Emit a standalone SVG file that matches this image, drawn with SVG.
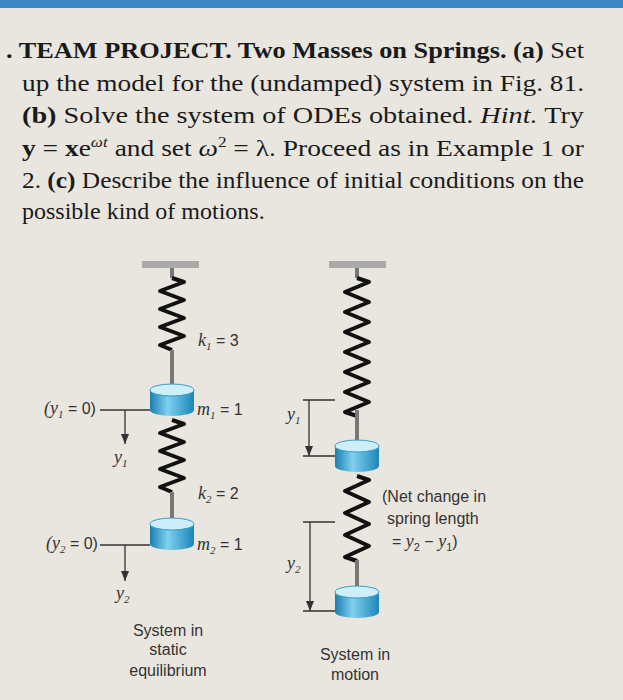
<svg xmlns="http://www.w3.org/2000/svg" width="623" height="700" viewBox="0 0 623 700">
<style>
.t{font-family:"Liberation Serif",serif;font-size:24px;fill:#1a1a1a}
.b{font-weight:bold}
.i{font-style:italic}
.s{font-family:"Liberation Sans",sans-serif;font-size:16px;fill:#333}
.m{font-family:"Liberation Serif",serif;font-style:italic;font-size:18px;fill:#333}
.sub{font-size:11px}
.coil{fill:none;stroke:#111;stroke-width:4;stroke-linejoin:round}
.rod{stroke:#777;stroke-width:4}
.ln{stroke:#333;stroke-width:1.3;fill:none}
</style>
<defs>
<linearGradient id="cyl" x1="0" x2="1"><stop offset="0" stop-color="#1a7fb0"/><stop offset="0.4" stop-color="#7fd0ee"/><stop offset="1" stop-color="#1d86b8"/></linearGradient>
<marker id="ar" markerWidth="10" markerHeight="8" refX="10" refY="4" orient="auto" markerUnits="userSpaceOnUse"><path d="M0,0 L10,4 L0,8 Z" fill="#333"/></marker>
<g id="mass"><path d="M-22,-10 v20 a22,6 0 0 0 44,0 v-20 Z" fill="url(#cyl)"/><ellipse cx="0" cy="-10" rx="22" ry="6" fill="#cdeefa" stroke="#3a9cc8"/></g>
</defs>
<rect width="623" height="700" fill="#e9e6df"/>
<rect width="623" height="8" fill="#3d86c6"/>
<g id="text">
<text class="t" x="6" y="58" textLength="578" lengthAdjust="spacingAndGlyphs"><tspan class="b">. TEAM PROJECT. Two Masses on Springs.</tspan> <tspan class="b">(a)</tspan> Set</text>
<text class="t" x="22" y="91" textLength="562" lengthAdjust="spacingAndGlyphs">up the model for the (undamped) system in Fig. 81.</text>
<text class="t" x="22" y="123" textLength="562" lengthAdjust="spacingAndGlyphs"><tspan class="b">(b)</tspan> Solve the system of ODEs obtained. <tspan class="i">Hint.</tspan> Try</text>
<text class="t" x="22" y="156" textLength="562" lengthAdjust="spacingAndGlyphs"><tspan class="b">y</tspan> = <tspan class="b">x</tspan>e<tspan class="i" dy="-9" font-size="15">ωt</tspan><tspan dy="9"> and set </tspan><tspan class="i">ω</tspan><tspan dy="-9" font-size="15">2</tspan><tspan dy="9"> = λ. Proceed as in Example 1 or</tspan></text>
<text class="t" x="22" y="188" textLength="562" lengthAdjust="spacingAndGlyphs">2. <tspan class="b">(c)</tspan> Describe the influence of initial conditions on the</text>
<text class="t" x="22" y="219">possible kind of motions.</text>
</g>
<g id="left-system">
<rect x="142" y="261" width="57" height="7" fill="#aaa"/>
<line class="rod" x1="172" y1="268" x2="172" y2="278"/>
<path class="coil" d="M172,278 l12,4 l-24,9 l24,9 l-24,9 l24,9 l-24,9 l24,9 l-24,9 l12,5"/>
<line class="rod" x1="172" y1="350" x2="172" y2="388"/>
<use href="#mass" x="172" y="400"/>
<path class="coil" d="M172,420 l12,4 l-24,9 l24,9 l-24,9 l24,9 l-24,9 l24,9 l-24,9 l12,5"/>
<line class="rod" x1="172" y1="492" x2="172" y2="522"/>
<use href="#mass" x="172" y="534"/>
</g>
<g id="right-system">
<rect x="329" y="261" width="57" height="7" fill="#aaa"/>
<line class="rod" x1="357" y1="268" x2="357" y2="278"/>
<path class="coil" d="M357,278 l12,4 l-24,10 l24,10 l-24,10 l24,10 l-24,10 l24,10 l-24,10 l24,10 l-24,10 l24,10 l-24,10 l24,10 l-24,10 l12,4"/>
<line class="rod" x1="357" y1="410" x2="357" y2="446"/>
<use href="#mass" x="357" y="456"/>
<path class="coil" d="M357,476 l12,4 l-24,11 l24,11 l-24,11 l24,11 l-24,11 l24,11 l-24,11 l12,4"/>
<line class="rod" x1="357" y1="560" x2="357" y2="592"/>
<use href="#mass" x="357" y="602"/>
</g>
<g id="connectors">
<path class="ln" d="M100,410 H150"/>
<line class="ln" x1="125" y1="410" x2="125" y2="444" marker-end="url(#ar)"/>
<path class="ln" d="M100,545 H150"/>
<line class="ln" x1="125" y1="545" x2="125" y2="581" marker-end="url(#ar)"/>
<path class="ln" d="M303,400 H335 M303,456 H335"/>
<line class="ln" x1="309" y1="400" x2="309" y2="456" marker-end="url(#ar)"/>
<path class="ln" d="M303,522 H335 M303,611 H335"/>
<line class="ln" x1="310" y1="522" x2="310" y2="611" marker-end="url(#ar)"/>
</g>
<g id="labels">
<text class="m" x="198" y="346">k<tspan class="sub" dy="4">1</tspan><tspan dy="-4" class="s" font-style="normal"> = 3</tspan></text>
<text class="m" x="198" y="499">k<tspan class="sub" dy="4">2</tspan><tspan dy="-4" class="s" font-style="normal"> = 2</tspan></text>
<text class="m" x="197" y="415">m<tspan class="sub" dy="4">1</tspan><tspan dy="-4" class="s" font-style="normal"> = 1</tspan></text>
<text class="m" x="197" y="550">m<tspan class="sub" dy="4">2</tspan><tspan dy="-4" class="s" font-style="normal"> = 1</tspan></text>
<text class="m" x="44" y="414">(y<tspan class="sub" dy="4">1</tspan><tspan dy="-4" class="s" font-style="normal"> = 0)</tspan></text>
<text class="m" x="46" y="549">(y<tspan class="sub" dy="4">2</tspan><tspan dy="-4" class="s" font-style="normal"> = 0)</tspan></text>
<text class="m" x="114" y="463">y<tspan class="sub" dy="4">1</tspan></text>
<text class="m" x="116" y="599">y<tspan class="sub" dy="4">2</tspan></text>
<text class="m" x="287" y="420">y<tspan class="sub" dy="4">1</tspan></text>
<text class="m" x="287" y="569">y<tspan class="sub" dy="4">2</tspan></text>
<text class="s" x="382" y="502">(Net change in</text>
<text class="s" x="387" y="524">spring length</text>
<text class="s" x="392" y="547">= <tspan class="m">y</tspan><tspan class="sub" dy="4">2</tspan><tspan dy="-4"> − </tspan><tspan class="m">y</tspan><tspan class="sub" dy="4">1</tspan><tspan dy="-4">)</tspan></text>
<text class="s" text-anchor="middle" x="168" y="636">System in</text>
<text class="s" text-anchor="middle" x="168" y="655">static</text>
<text class="s" text-anchor="middle" x="168" y="676">equilibrium</text>
<text class="s" text-anchor="middle" x="355" y="660">System in</text>
<text class="s" text-anchor="middle" x="355" y="680">motion</text>
</g>
</svg>
